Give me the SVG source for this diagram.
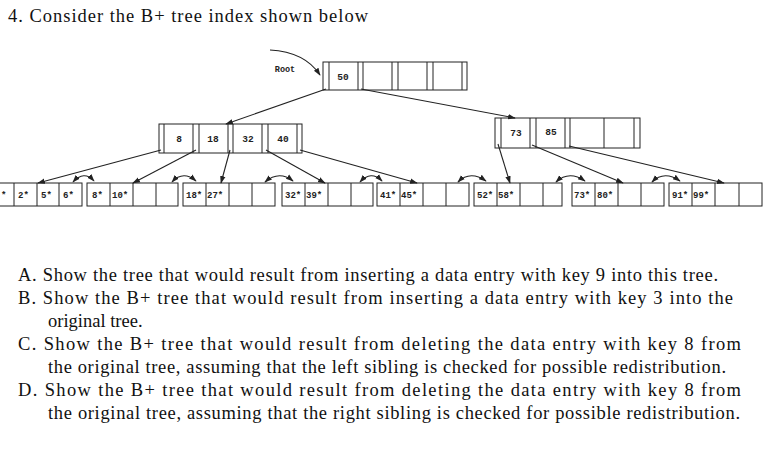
<svg xmlns="http://www.w3.org/2000/svg" width="774" height="470" viewBox="0 0 774 470">
<style>
.b{fill:#fff;stroke:#222;stroke-width:1}
.m{font-family:"Liberation Mono",monospace;font-size:9px;font-weight:bold;fill:#222}
.k{font-family:"Liberation Mono",monospace;font-size:9.5px;font-weight:bold;fill:#222;text-anchor:middle}
.t{font-family:"Liberation Serif",serif;font-size:18.5px;fill:#111}
.c{stroke:#222;stroke-width:1.1;fill:none;marker-end:url(#a)}
.s{stroke:#222;stroke-width:1.1;fill:none;marker-start:url(#a);marker-end:url(#a)}
</style>
<defs><marker id="a" viewBox="0 0 10 10" refX="9" refY="5" markerWidth="7" markerHeight="7" orient="auto-start-reverse"><path d="M0,1.5 L10,5 L0,8.5z" fill="#222"/></marker></defs>
<rect width="774" height="470" fill="#fff"/>
<text class="t" x="8" y="22" textLength="360" lengthAdjust="spacing">4.  Consider the B+ tree index shown below</text>
<g id="root">
<rect class="b" x="323" y="62" width="144" height="28"/>
<path d="M329,62V90M358,62V90M363,62V90M392,62V90M398,62V90M427,62V90M433,62V90M462,62V90" stroke="#222"/>
<text class="k" x="343" y="80">50</text>
<text class="k" x="285" y="72" style="font-size:8.5px">Root</text>
</g>
<g id="innerL">
<rect class="b" x="159" y="124" width="143" height="29"/>
<path d="M164,124V153M193,124V153M199,124V153M228,124V153M233,124V153M262,124V153M268,124V153M297,124V153" stroke="#222"/>
<text class="k" x="179" y="142">8</text><text class="k" x="213" y="142">18</text><text class="k" x="248" y="142">32</text><text class="k" x="283" y="142">40</text>
</g>
<g id="innerR">
<rect class="b" x="495" y="118" width="145" height="30"/>
<path d="M501,118V148M530,118V148M536,118V148M565,118V148M570,118V148M604,118V148M634,118V148" stroke="#222"/>
<text class="k" x="516" y="136">73</text><text class="k" x="551" y="135">85</text>
</g>
<g id="leaves">
<g id="leaf1"><rect class="b" x="-9" y="183" width="91" height="23"/><path d="M14,183V206M37,183V206M59,183V206" stroke="#222"/><text class="m" x="1" y="198">*</text><text class="m" x="18" y="198">2*</text><text class="m" x="41" y="198">5*</text><text class="m" x="63" y="198">6*</text></g>
<g id="leaf2"><rect class="b" x="87" y="183" width="91" height="23"/><path d="M110,183V206M133,183V206M156,183V206" stroke="#222"/><text class="m" x="92" y="198">8*</text><text class="m" x="112" y="198">10*</text></g>
<g id="leaf3"><rect class="b" x="183" y="183" width="92" height="23"/><path d="M206,183V206M229,183V206M252,183V206" stroke="#222"/><text class="m" x="186" y="198">18*</text><text class="m" x="207" y="198">27*</text></g>
<g id="leaf4"><rect class="b" x="282" y="183" width="91" height="23"/><path d="M305,183V206M328,183V206M351,183V206" stroke="#222"/><text class="m" x="285" y="198">32*</text><text class="m" x="306" y="198">39*</text></g>
<g id="leaf5"><rect class="b" x="377" y="183" width="92" height="23"/><path d="M400,183V206M423,183V206M446,183V206" stroke="#222"/><text class="m" x="380" y="198">41*</text><text class="m" x="401" y="198">45*</text></g>
<g id="leaf6"><rect class="b" x="474" y="183" width="88" height="23"/><path d="M497,183V206M520,183V206M543,183V206" stroke="#222"/><text class="m" x="477" y="198">52*</text><text class="m" x="498" y="198">58*</text></g>
<g id="leaf7"><rect class="b" x="572" y="183" width="92" height="23"/><path d="M595,183V206M618,183V206M641,183V206" stroke="#222"/><text class="m" x="574" y="198">73*</text><text class="m" x="597" y="198">80*</text></g>
<g id="leaf8"><rect class="b" x="669" y="183" width="93" height="23"/><path d="M692,183V206M715,183V206M739,183V206" stroke="#222"/><text class="m" x="672" y="198">91*</text><text class="m" x="693" y="198">99*</text></g>
</g>
<g id="connectors">
<path class="c" d="M270,50 Q305,52 320,75"/>
<path class="c" d="M326,89 L226,124"/>
<path class="c" d="M361,89 L515,118"/>
<path class="c" d="M161,150 L38,183"/>
<path class="c" d="M196,150 L133,183"/>
<path class="c" d="M230,150 L221,183"/>
<path class="c" d="M266,150 L325,183"/>
<path class="c" d="M300,150 L417,183"/>
<path class="c" d="M498,144 L510,183"/>
<path class="c" d="M532,145 L623,183"/>
<path class="c" d="M569,146 L724,183"/>
<path class="s" d="M73,182 Q84,170 94,181"/>
<path class="s" d="M172,182 Q183,170 196,181"/>
<path class="s" d="M265,182 Q279,170 293,181"/>
<path class="s" d="M360,182 Q371,170 382,181"/>
<path class="s" d="M458,182 Q470,170 486,181"/>
<path class="s" d="M556,182 Q569,170 585,181"/>
<path class="s" d="M652,182 Q664,170 680,181"/>
</g>
<text class="t" x="18" y="281" textLength="700" lengthAdjust="spacing">A.  Show the tree that would result from inserting a data entry with key 9 into this tree.</text>
<text class="t" x="18" y="304" textLength="715" lengthAdjust="spacing">B.  Show the B+ tree that would result from inserting a data entry with key 3 into the</text>
<text class="t" x="48" y="327">original tree.</text>
<text class="t" x="18" y="350" textLength="723" lengthAdjust="spacing">C.  Show the B+ tree that would result from deleting the data entry with key 8 from</text>
<text class="t" x="48" y="373" textLength="678" lengthAdjust="spacing">the original tree, assuming that the left sibling is checked for possible redistribution.</text>
<text class="t" x="18" y="396" textLength="723" lengthAdjust="spacing">D.  Show the B+ tree that would result from deleting the data entry with key 8 from</text>
<text class="t" x="48" y="419" textLength="692" lengthAdjust="spacing">the original tree, assuming that the right sibling is checked for possible redistribution.</text>
</svg>
